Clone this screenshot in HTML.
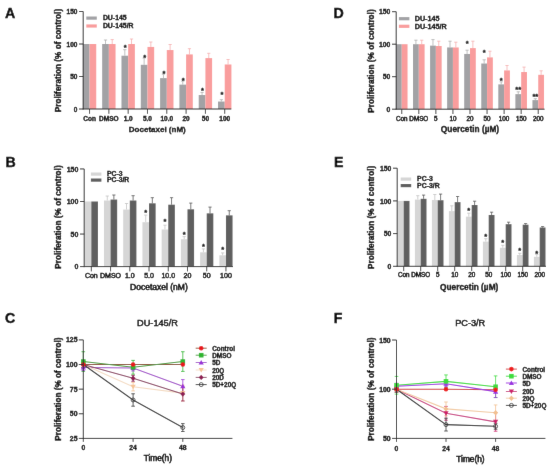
<!DOCTYPE html>
<html><head><meta charset="utf-8"><title>Figure</title>
<style>html,body{margin:0;padding:0;background:#fff;}body{width:550px;height:468px;overflow:hidden;}svg{display:block;font-family:"Liberation Sans", sans-serif;}</style></head><body>
<svg width="550" height="468" viewBox="0 0 550 468">
<defs><filter id="bl" x="0" y="0" width="550" height="468" filterUnits="userSpaceOnUse"><feConvolveMatrix order="3" kernelMatrix="0.00276 0.04704 0.00276 0.04704 0.80077 0.04704 0.00276 0.04704 0.00276" divisor="1" edgeMode="duplicate"/></filter></defs>
<g filter="url(#bl)"><rect width="550" height="468" fill="#fff"/>
<text x="5.00" y="18.40" font-size="14.2" font-weight="bold" text-anchor="start" fill="#000" stroke="#000" stroke-width="0.4">A</text>
<rect x="82.85" y="44.00" width="6.70" height="65.00" fill="#a2a2a5"/>
<rect x="89.55" y="44.00" width="6.70" height="65.00" fill="#f99d9d"/>
<line x1="105.51" y1="40.00" x2="105.51" y2="44.00" stroke="#b0b0b0" stroke-width="0.8"/>
<line x1="103.91" y1="40.00" x2="107.11" y2="40.00" stroke="#b0b0b0" stroke-width="0.8"/>
<rect x="102.16" y="44.00" width="6.70" height="65.00" fill="#a2a2a5"/>
<line x1="112.21" y1="39.60" x2="112.21" y2="44.00" stroke="#f5b0b0" stroke-width="0.8"/>
<line x1="110.61" y1="39.60" x2="113.81" y2="39.60" stroke="#f5b0b0" stroke-width="0.8"/>
<rect x="108.86" y="44.00" width="6.70" height="65.00" fill="#f99d9d"/>
<line x1="124.82" y1="49.70" x2="124.82" y2="55.70" stroke="#b0b0b0" stroke-width="0.8"/>
<line x1="123.22" y1="49.70" x2="126.42" y2="49.70" stroke="#b0b0b0" stroke-width="0.8"/>
<rect x="121.47" y="55.70" width="6.70" height="53.30" fill="#a2a2a5"/>
<line x1="131.52" y1="39.00" x2="131.52" y2="44.00" stroke="#f5b0b0" stroke-width="0.8"/>
<line x1="129.92" y1="39.00" x2="133.12" y2="39.00" stroke="#f5b0b0" stroke-width="0.8"/>
<rect x="128.17" y="44.00" width="6.70" height="65.00" fill="#f99d9d"/>
<line x1="144.13" y1="58.10" x2="144.13" y2="64.80" stroke="#b0b0b0" stroke-width="0.8"/>
<line x1="142.53" y1="58.10" x2="145.73" y2="58.10" stroke="#b0b0b0" stroke-width="0.8"/>
<rect x="140.78" y="64.80" width="6.70" height="44.20" fill="#a2a2a5"/>
<line x1="150.83" y1="42.00" x2="150.83" y2="46.92" stroke="#f5b0b0" stroke-width="0.8"/>
<line x1="149.23" y1="42.00" x2="152.43" y2="42.00" stroke="#f5b0b0" stroke-width="0.8"/>
<rect x="147.48" y="46.92" width="6.70" height="62.08" fill="#f99d9d"/>
<line x1="163.44" y1="74.20" x2="163.44" y2="78.12" stroke="#b0b0b0" stroke-width="0.8"/>
<line x1="161.84" y1="74.20" x2="165.04" y2="74.20" stroke="#b0b0b0" stroke-width="0.8"/>
<rect x="160.09" y="78.12" width="6.70" height="30.88" fill="#a2a2a5"/>
<line x1="170.14" y1="44.50" x2="170.14" y2="50.04" stroke="#f5b0b0" stroke-width="0.8"/>
<line x1="168.54" y1="44.50" x2="171.74" y2="44.50" stroke="#f5b0b0" stroke-width="0.8"/>
<rect x="166.79" y="50.04" width="6.70" height="58.96" fill="#f99d9d"/>
<line x1="182.75" y1="81.20" x2="182.75" y2="84.62" stroke="#b0b0b0" stroke-width="0.8"/>
<line x1="181.15" y1="81.20" x2="184.35" y2="81.20" stroke="#b0b0b0" stroke-width="0.8"/>
<rect x="179.40" y="84.62" width="6.70" height="24.38" fill="#a2a2a5"/>
<line x1="189.45" y1="48.70" x2="189.45" y2="54.40" stroke="#f5b0b0" stroke-width="0.8"/>
<line x1="187.85" y1="48.70" x2="191.05" y2="48.70" stroke="#f5b0b0" stroke-width="0.8"/>
<rect x="186.10" y="54.40" width="6.70" height="54.60" fill="#f99d9d"/>
<line x1="202.06" y1="92.40" x2="202.06" y2="95.03" stroke="#b0b0b0" stroke-width="0.8"/>
<line x1="200.46" y1="92.40" x2="203.66" y2="92.40" stroke="#b0b0b0" stroke-width="0.8"/>
<rect x="198.71" y="95.03" width="6.70" height="13.97" fill="#a2a2a5"/>
<line x1="208.76" y1="53.30" x2="208.76" y2="58.10" stroke="#f5b0b0" stroke-width="0.8"/>
<line x1="207.16" y1="53.30" x2="210.36" y2="53.30" stroke="#f5b0b0" stroke-width="0.8"/>
<rect x="205.41" y="58.10" width="6.70" height="50.90" fill="#f99d9d"/>
<line x1="221.37" y1="99.70" x2="221.37" y2="101.53" stroke="#b0b0b0" stroke-width="0.8"/>
<line x1="219.77" y1="99.70" x2="222.97" y2="99.70" stroke="#b0b0b0" stroke-width="0.8"/>
<rect x="218.02" y="101.53" width="6.70" height="7.47" fill="#a2a2a5"/>
<line x1="228.07" y1="59.50" x2="228.07" y2="64.47" stroke="#f5b0b0" stroke-width="0.8"/>
<line x1="226.47" y1="59.50" x2="229.67" y2="59.50" stroke="#f5b0b0" stroke-width="0.8"/>
<rect x="224.72" y="64.47" width="6.70" height="44.53" fill="#f99d9d"/>
<text x="125.32" y="49.80" font-size="7.5" font-weight="bold" text-anchor="middle" fill="#111" stroke="#111" stroke-width="0.3">*</text>
<text x="144.63" y="60.00" font-size="7.5" font-weight="bold" text-anchor="middle" fill="#111" stroke="#111" stroke-width="0.3">*</text>
<text x="163.94" y="76.00" font-size="7.5" font-weight="bold" text-anchor="middle" fill="#111" stroke="#111" stroke-width="0.3">*</text>
<text x="183.25" y="82.80" font-size="7.5" font-weight="bold" text-anchor="middle" fill="#111" stroke="#111" stroke-width="0.3">*</text>
<text x="202.56" y="93.40" font-size="7.5" font-weight="bold" text-anchor="middle" fill="#111" stroke="#111" stroke-width="0.3">*</text>
<text x="221.87" y="97.20" font-size="7.5" font-weight="bold" text-anchor="middle" fill="#111" stroke="#111" stroke-width="0.3">*</text>
<line x1="83.20" y1="11.50" x2="83.20" y2="109.50" stroke="#333" stroke-width="1.0"/>
<line x1="82.70" y1="109.00" x2="231.30" y2="109.00" stroke="#333" stroke-width="1.0"/>
<line x1="79.00" y1="109.00" x2="83.20" y2="109.00" stroke="#333" stroke-width="1.0"/>
<text x="77.40" y="111.60" font-size="6.5" font-weight="bold" text-anchor="end" fill="#000" stroke="#000" stroke-width="0.3">0</text>
<line x1="79.00" y1="76.50" x2="83.20" y2="76.50" stroke="#333" stroke-width="1.0"/>
<text x="77.40" y="79.10" font-size="6.5" font-weight="bold" text-anchor="end" fill="#000" stroke="#000" stroke-width="0.3">50</text>
<line x1="79.00" y1="44.00" x2="83.20" y2="44.00" stroke="#333" stroke-width="1.0"/>
<text x="77.40" y="46.60" font-size="6.5" font-weight="bold" text-anchor="end" fill="#000" stroke="#000" stroke-width="0.3">100</text>
<line x1="79.00" y1="11.50" x2="83.20" y2="11.50" stroke="#333" stroke-width="1.0"/>
<text x="77.40" y="14.10" font-size="6.5" font-weight="bold" text-anchor="end" fill="#000" stroke="#000" stroke-width="0.3">150</text>
<line x1="89.55" y1="109.00" x2="89.55" y2="113.80" stroke="#333" stroke-width="0.9"/>
<text x="89.55" y="120.80" font-size="6.5" font-weight="bold" text-anchor="middle" fill="#000" stroke="#000" stroke-width="0.3">Con</text>
<line x1="108.86" y1="109.00" x2="108.86" y2="113.80" stroke="#333" stroke-width="0.9"/>
<text x="108.86" y="120.80" font-size="6.5" font-weight="bold" text-anchor="middle" fill="#000" stroke="#000" stroke-width="0.3">DMSO</text>
<line x1="128.17" y1="109.00" x2="128.17" y2="113.80" stroke="#333" stroke-width="0.9"/>
<text x="128.17" y="120.80" font-size="6.5" font-weight="bold" text-anchor="middle" fill="#000" stroke="#000" stroke-width="0.3">1.0</text>
<line x1="147.48" y1="109.00" x2="147.48" y2="113.80" stroke="#333" stroke-width="0.9"/>
<text x="147.48" y="120.80" font-size="6.5" font-weight="bold" text-anchor="middle" fill="#000" stroke="#000" stroke-width="0.3">5.0</text>
<line x1="166.79" y1="109.00" x2="166.79" y2="113.80" stroke="#333" stroke-width="0.9"/>
<text x="166.79" y="120.80" font-size="6.5" font-weight="bold" text-anchor="middle" fill="#000" stroke="#000" stroke-width="0.3">10.0</text>
<line x1="186.10" y1="109.00" x2="186.10" y2="113.80" stroke="#333" stroke-width="0.9"/>
<text x="186.10" y="120.80" font-size="6.5" font-weight="bold" text-anchor="middle" fill="#000" stroke="#000" stroke-width="0.3">20</text>
<line x1="205.41" y1="109.00" x2="205.41" y2="113.80" stroke="#333" stroke-width="0.9"/>
<text x="205.41" y="120.80" font-size="6.5" font-weight="bold" text-anchor="middle" fill="#000" stroke="#000" stroke-width="0.3">50</text>
<line x1="224.72" y1="109.00" x2="224.72" y2="113.80" stroke="#333" stroke-width="0.9"/>
<text x="224.72" y="120.80" font-size="6.5" font-weight="bold" text-anchor="middle" fill="#000" stroke="#000" stroke-width="0.3">100</text>
<text x="157.30" y="132.40" font-size="8" font-weight="bold" text-anchor="middle" fill="#000" stroke="#000" stroke-width="0.3">Docetaxel (nM)</text>
<text x="60.90" y="60.50" font-size="8.2" font-weight="bold" text-anchor="middle" fill="#000" stroke="#000" stroke-width="0.35" transform="rotate(-90 60.9 60.5)">Proliferation (% of control)</text>
<rect x="86.30" y="16.50" width="10.50" height="3.20" fill="#a2a2a5"/>
<text x="102.90" y="20.40" font-size="6.9" font-weight="bold" text-anchor="start" fill="#000" stroke="#000" stroke-width="0.3">DU-145</text>
<rect x="86.30" y="24.40" width="10.50" height="3.20" fill="#f99d9d"/>
<text x="102.90" y="28.30" font-size="6.9" font-weight="bold" text-anchor="start" fill="#000" stroke="#000" stroke-width="0.3">DU-145/R</text>
<text x="333.60" y="18.10" font-size="14.2" font-weight="bold" text-anchor="start" fill="#000" stroke="#000" stroke-width="0.4">D</text>
<rect x="395.95" y="44.20" width="5.80" height="65.00" fill="#a2a2a5"/>
<rect x="401.75" y="44.20" width="5.80" height="65.00" fill="#f99d9d"/>
<line x1="415.91" y1="40.20" x2="415.91" y2="44.20" stroke="#b0b0b0" stroke-width="0.8"/>
<line x1="414.31" y1="40.20" x2="417.51" y2="40.20" stroke="#b0b0b0" stroke-width="0.8"/>
<rect x="413.01" y="44.20" width="5.80" height="65.00" fill="#a2a2a5"/>
<line x1="421.71" y1="40.20" x2="421.71" y2="44.20" stroke="#f5b0b0" stroke-width="0.8"/>
<line x1="420.11" y1="40.20" x2="423.31" y2="40.20" stroke="#f5b0b0" stroke-width="0.8"/>
<rect x="418.81" y="44.20" width="5.80" height="65.00" fill="#f99d9d"/>
<line x1="432.97" y1="39.60" x2="432.97" y2="45.63" stroke="#b0b0b0" stroke-width="0.8"/>
<line x1="431.37" y1="39.60" x2="434.57" y2="39.60" stroke="#b0b0b0" stroke-width="0.8"/>
<rect x="430.07" y="45.63" width="5.80" height="63.57" fill="#a2a2a5"/>
<line x1="438.77" y1="41.20" x2="438.77" y2="46.02" stroke="#f5b0b0" stroke-width="0.8"/>
<line x1="437.17" y1="41.20" x2="440.37" y2="41.20" stroke="#f5b0b0" stroke-width="0.8"/>
<rect x="435.87" y="46.02" width="5.80" height="63.18" fill="#f99d9d"/>
<line x1="450.03" y1="41.20" x2="450.03" y2="47.45" stroke="#b0b0b0" stroke-width="0.8"/>
<line x1="448.43" y1="41.20" x2="451.63" y2="41.20" stroke="#b0b0b0" stroke-width="0.8"/>
<rect x="447.13" y="47.45" width="5.80" height="61.75" fill="#a2a2a5"/>
<line x1="455.83" y1="42.20" x2="455.83" y2="47.45" stroke="#f5b0b0" stroke-width="0.8"/>
<line x1="454.23" y1="42.20" x2="457.43" y2="42.20" stroke="#f5b0b0" stroke-width="0.8"/>
<rect x="452.93" y="47.45" width="5.80" height="61.75" fill="#f99d9d"/>
<line x1="467.09" y1="50.20" x2="467.09" y2="53.95" stroke="#b0b0b0" stroke-width="0.8"/>
<line x1="465.49" y1="50.20" x2="468.69" y2="50.20" stroke="#b0b0b0" stroke-width="0.8"/>
<rect x="464.19" y="53.95" width="5.80" height="55.25" fill="#a2a2a5"/>
<line x1="472.89" y1="41.20" x2="472.89" y2="48.10" stroke="#f5b0b0" stroke-width="0.8"/>
<line x1="471.29" y1="41.20" x2="474.49" y2="41.20" stroke="#f5b0b0" stroke-width="0.8"/>
<rect x="469.99" y="48.10" width="5.80" height="61.10" fill="#f99d9d"/>
<line x1="484.15" y1="59.80" x2="484.15" y2="63.51" stroke="#b0b0b0" stroke-width="0.8"/>
<line x1="482.55" y1="59.80" x2="485.75" y2="59.80" stroke="#b0b0b0" stroke-width="0.8"/>
<rect x="481.25" y="63.51" width="5.80" height="45.70" fill="#a2a2a5"/>
<line x1="489.95" y1="51.20" x2="489.95" y2="57.39" stroke="#f5b0b0" stroke-width="0.8"/>
<line x1="488.35" y1="51.20" x2="491.55" y2="51.20" stroke="#f5b0b0" stroke-width="0.8"/>
<rect x="487.05" y="57.39" width="5.80" height="51.81" fill="#f99d9d"/>
<line x1="501.21" y1="81.80" x2="501.21" y2="84.37" stroke="#b0b0b0" stroke-width="0.8"/>
<line x1="499.61" y1="81.80" x2="502.81" y2="81.80" stroke="#b0b0b0" stroke-width="0.8"/>
<rect x="498.31" y="84.37" width="5.80" height="24.83" fill="#a2a2a5"/>
<line x1="507.01" y1="65.50" x2="507.01" y2="70.40" stroke="#f5b0b0" stroke-width="0.8"/>
<line x1="505.41" y1="65.50" x2="508.61" y2="65.50" stroke="#f5b0b0" stroke-width="0.8"/>
<rect x="504.11" y="70.40" width="5.80" height="38.80" fill="#f99d9d"/>
<line x1="518.27" y1="91.80" x2="518.27" y2="94.12" stroke="#b0b0b0" stroke-width="0.8"/>
<line x1="516.67" y1="91.80" x2="519.87" y2="91.80" stroke="#b0b0b0" stroke-width="0.8"/>
<rect x="515.37" y="94.12" width="5.80" height="15.08" fill="#a2a2a5"/>
<line x1="524.07" y1="67.10" x2="524.07" y2="72.02" stroke="#f5b0b0" stroke-width="0.8"/>
<line x1="522.47" y1="67.10" x2="525.67" y2="67.10" stroke="#f5b0b0" stroke-width="0.8"/>
<rect x="521.17" y="72.02" width="5.80" height="37.18" fill="#f99d9d"/>
<line x1="535.33" y1="98.70" x2="535.33" y2="100.10" stroke="#b0b0b0" stroke-width="0.8"/>
<line x1="533.73" y1="98.70" x2="536.93" y2="98.70" stroke="#b0b0b0" stroke-width="0.8"/>
<rect x="532.43" y="100.10" width="5.80" height="9.10" fill="#a2a2a5"/>
<line x1="541.13" y1="70.80" x2="541.13" y2="74.81" stroke="#f5b0b0" stroke-width="0.8"/>
<line x1="539.53" y1="70.80" x2="542.73" y2="70.80" stroke="#f5b0b0" stroke-width="0.8"/>
<rect x="538.23" y="74.81" width="5.80" height="34.39" fill="#f99d9d"/>
<text x="467.09" y="45.90" font-size="7.5" font-weight="bold" text-anchor="middle" fill="#111" stroke="#111" stroke-width="0.3">*</text>
<text x="484.15" y="55.00" font-size="7.5" font-weight="bold" text-anchor="middle" fill="#111" stroke="#111" stroke-width="0.3">*</text>
<text x="501.21" y="82.50" font-size="7.5" font-weight="bold" text-anchor="middle" fill="#111" stroke="#111" stroke-width="0.3">*</text>
<text x="518.27" y="91.50" font-size="7.5" font-weight="bold" text-anchor="middle" fill="#111" stroke="#111" stroke-width="0.3">**</text>
<text x="535.33" y="99.00" font-size="7.5" font-weight="bold" text-anchor="middle" fill="#111" stroke="#111" stroke-width="0.3">**</text>
<line x1="396.20" y1="11.70" x2="396.20" y2="109.70" stroke="#333" stroke-width="1.0"/>
<line x1="395.70" y1="109.20" x2="544.60" y2="109.20" stroke="#333" stroke-width="1.0"/>
<line x1="392.00" y1="109.20" x2="396.20" y2="109.20" stroke="#333" stroke-width="1.0"/>
<text x="390.40" y="111.80" font-size="6.8" font-weight="bold" text-anchor="end" fill="#000" stroke="#000" stroke-width="0.3">0</text>
<line x1="392.00" y1="76.70" x2="396.20" y2="76.70" stroke="#333" stroke-width="1.0"/>
<text x="390.40" y="79.30" font-size="6.8" font-weight="bold" text-anchor="end" fill="#000" stroke="#000" stroke-width="0.3">50</text>
<line x1="392.00" y1="44.20" x2="396.20" y2="44.20" stroke="#333" stroke-width="1.0"/>
<text x="390.40" y="46.80" font-size="6.8" font-weight="bold" text-anchor="end" fill="#000" stroke="#000" stroke-width="0.3">100</text>
<line x1="392.00" y1="11.70" x2="396.20" y2="11.70" stroke="#333" stroke-width="1.0"/>
<text x="390.40" y="14.30" font-size="6.8" font-weight="bold" text-anchor="end" fill="#000" stroke="#000" stroke-width="0.3">150</text>
<line x1="401.75" y1="109.20" x2="401.75" y2="114.00" stroke="#333" stroke-width="0.9"/>
<text x="401.75" y="121.00" font-size="6.3" font-weight="normal" text-anchor="middle" fill="#000" stroke="#000" stroke-width="0.45">Con</text>
<line x1="418.81" y1="109.20" x2="418.81" y2="114.00" stroke="#333" stroke-width="0.9"/>
<text x="418.81" y="121.00" font-size="6.3" font-weight="normal" text-anchor="middle" fill="#000" stroke="#000" stroke-width="0.45">DMSO</text>
<line x1="435.87" y1="109.20" x2="435.87" y2="114.00" stroke="#333" stroke-width="0.9"/>
<text x="435.87" y="121.00" font-size="6.3" font-weight="normal" text-anchor="middle" fill="#000" stroke="#000" stroke-width="0.45">5</text>
<line x1="452.93" y1="109.20" x2="452.93" y2="114.00" stroke="#333" stroke-width="0.9"/>
<text x="452.93" y="121.00" font-size="6.3" font-weight="normal" text-anchor="middle" fill="#000" stroke="#000" stroke-width="0.45">10</text>
<line x1="469.99" y1="109.20" x2="469.99" y2="114.00" stroke="#333" stroke-width="0.9"/>
<text x="469.99" y="121.00" font-size="6.3" font-weight="normal" text-anchor="middle" fill="#000" stroke="#000" stroke-width="0.45">20</text>
<line x1="487.05" y1="109.20" x2="487.05" y2="114.00" stroke="#333" stroke-width="0.9"/>
<text x="487.05" y="121.00" font-size="6.3" font-weight="normal" text-anchor="middle" fill="#000" stroke="#000" stroke-width="0.45">50</text>
<line x1="504.11" y1="109.20" x2="504.11" y2="114.00" stroke="#333" stroke-width="0.9"/>
<text x="504.11" y="121.00" font-size="6.3" font-weight="normal" text-anchor="middle" fill="#000" stroke="#000" stroke-width="0.45">100</text>
<line x1="521.17" y1="109.20" x2="521.17" y2="114.00" stroke="#333" stroke-width="0.9"/>
<text x="521.17" y="121.00" font-size="6.3" font-weight="normal" text-anchor="middle" fill="#000" stroke="#000" stroke-width="0.45">150</text>
<line x1="538.23" y1="109.20" x2="538.23" y2="114.00" stroke="#333" stroke-width="0.9"/>
<text x="538.23" y="121.00" font-size="6.3" font-weight="normal" text-anchor="middle" fill="#000" stroke="#000" stroke-width="0.45">200</text>
<text x="470.00" y="132.10" font-size="8.3" font-weight="bold" text-anchor="middle" fill="#000" stroke="#000" stroke-width="0.3">Quercetin (µM)</text>
<text x="374.10" y="61.00" font-size="8.2" font-weight="bold" text-anchor="middle" fill="#000" stroke="#000" stroke-width="0.35" transform="rotate(-90 374.1 61.0)">Proliferation (% of control)</text>
<rect x="398.90" y="17.10" width="10.50" height="3.20" fill="#a2a2a5"/>
<text x="414.70" y="21.00" font-size="7.2" font-weight="bold" text-anchor="start" fill="#000" stroke="#000" stroke-width="0.3">DU-145</text>
<rect x="398.90" y="24.70" width="10.50" height="3.20" fill="#f99d9d"/>
<text x="414.70" y="28.60" font-size="7.2" font-weight="bold" text-anchor="start" fill="#000" stroke="#000" stroke-width="0.3">DU-145/R</text>
<text x="5.40" y="167.20" font-size="14.2" font-weight="bold" text-anchor="start" fill="#000" stroke="#000" stroke-width="0.4">B</text>
<rect x="84.74" y="201.50" width="6.60" height="65.10" fill="#d6d6d6"/>
<rect x="91.34" y="201.50" width="6.60" height="65.10" fill="#5e5e5e"/>
<line x1="107.27" y1="196.00" x2="107.27" y2="200.52" stroke="#c4c4c4" stroke-width="0.8"/>
<line x1="105.67" y1="196.00" x2="108.87" y2="196.00" stroke="#c4c4c4" stroke-width="0.8"/>
<rect x="103.97" y="200.52" width="6.60" height="66.08" fill="#d6d6d6"/>
<line x1="113.87" y1="195.00" x2="113.87" y2="199.55" stroke="#555" stroke-width="0.8"/>
<line x1="112.27" y1="195.00" x2="115.47" y2="195.00" stroke="#555" stroke-width="0.8"/>
<rect x="110.57" y="199.55" width="6.60" height="67.05" fill="#5e5e5e"/>
<line x1="126.50" y1="203.50" x2="126.50" y2="209.57" stroke="#c4c4c4" stroke-width="0.8"/>
<line x1="124.90" y1="203.50" x2="128.10" y2="203.50" stroke="#c4c4c4" stroke-width="0.8"/>
<rect x="123.20" y="209.57" width="6.60" height="57.03" fill="#d6d6d6"/>
<line x1="133.10" y1="195.70" x2="133.10" y2="200.52" stroke="#555" stroke-width="0.8"/>
<line x1="131.50" y1="195.70" x2="134.70" y2="195.70" stroke="#555" stroke-width="0.8"/>
<rect x="129.80" y="200.52" width="6.60" height="66.08" fill="#5e5e5e"/>
<line x1="145.73" y1="215.10" x2="145.73" y2="222.20" stroke="#c4c4c4" stroke-width="0.8"/>
<line x1="144.13" y1="215.10" x2="147.33" y2="215.10" stroke="#c4c4c4" stroke-width="0.8"/>
<rect x="142.43" y="222.20" width="6.60" height="44.40" fill="#d6d6d6"/>
<line x1="152.33" y1="197.70" x2="152.33" y2="203.32" stroke="#555" stroke-width="0.8"/>
<line x1="150.73" y1="197.70" x2="153.93" y2="197.70" stroke="#555" stroke-width="0.8"/>
<rect x="149.03" y="203.32" width="6.60" height="63.28" fill="#5e5e5e"/>
<line x1="164.96" y1="225.20" x2="164.96" y2="229.49" stroke="#c4c4c4" stroke-width="0.8"/>
<line x1="163.36" y1="225.20" x2="166.56" y2="225.20" stroke="#c4c4c4" stroke-width="0.8"/>
<rect x="161.66" y="229.49" width="6.60" height="37.11" fill="#d6d6d6"/>
<line x1="171.56" y1="197.70" x2="171.56" y2="204.69" stroke="#555" stroke-width="0.8"/>
<line x1="169.96" y1="197.70" x2="173.16" y2="197.70" stroke="#555" stroke-width="0.8"/>
<rect x="168.26" y="204.69" width="6.60" height="61.91" fill="#5e5e5e"/>
<line x1="184.19" y1="236.60" x2="184.19" y2="239.26" stroke="#c4c4c4" stroke-width="0.8"/>
<line x1="182.59" y1="236.60" x2="185.79" y2="236.60" stroke="#c4c4c4" stroke-width="0.8"/>
<rect x="180.89" y="239.26" width="6.60" height="27.34" fill="#d6d6d6"/>
<line x1="190.79" y1="203.10" x2="190.79" y2="209.31" stroke="#555" stroke-width="0.8"/>
<line x1="189.19" y1="203.10" x2="192.39" y2="203.10" stroke="#555" stroke-width="0.8"/>
<rect x="187.49" y="209.31" width="6.60" height="57.29" fill="#5e5e5e"/>
<line x1="203.42" y1="248.90" x2="203.42" y2="252.28" stroke="#c4c4c4" stroke-width="0.8"/>
<line x1="201.82" y1="248.90" x2="205.02" y2="248.90" stroke="#c4c4c4" stroke-width="0.8"/>
<rect x="200.12" y="252.28" width="6.60" height="14.32" fill="#d6d6d6"/>
<line x1="210.02" y1="207.10" x2="210.02" y2="213.35" stroke="#555" stroke-width="0.8"/>
<line x1="208.42" y1="207.10" x2="211.62" y2="207.10" stroke="#555" stroke-width="0.8"/>
<rect x="206.72" y="213.35" width="6.60" height="53.25" fill="#5e5e5e"/>
<line x1="222.65" y1="252.90" x2="222.65" y2="255.27" stroke="#c4c4c4" stroke-width="0.8"/>
<line x1="221.05" y1="252.90" x2="224.25" y2="252.90" stroke="#c4c4c4" stroke-width="0.8"/>
<rect x="219.35" y="255.27" width="6.60" height="11.33" fill="#d6d6d6"/>
<line x1="229.25" y1="210.70" x2="229.25" y2="215.37" stroke="#555" stroke-width="0.8"/>
<line x1="227.65" y1="210.70" x2="230.85" y2="210.70" stroke="#555" stroke-width="0.8"/>
<rect x="225.95" y="215.37" width="6.60" height="51.23" fill="#5e5e5e"/>
<text x="145.78" y="215.00" font-size="7.5" font-weight="bold" text-anchor="middle" fill="#111" stroke="#111" stroke-width="0.3">*</text>
<text x="165.01" y="223.50" font-size="7.5" font-weight="bold" text-anchor="middle" fill="#111" stroke="#111" stroke-width="0.3">*</text>
<text x="184.24" y="237.10" font-size="7.5" font-weight="bold" text-anchor="middle" fill="#111" stroke="#111" stroke-width="0.3">*</text>
<text x="203.47" y="248.60" font-size="7.5" font-weight="bold" text-anchor="middle" fill="#111" stroke="#111" stroke-width="0.3">*</text>
<text x="222.70" y="251.80" font-size="7.5" font-weight="bold" text-anchor="middle" fill="#111" stroke="#111" stroke-width="0.3">*</text>
<line x1="84.20" y1="168.95" x2="84.20" y2="267.10" stroke="#333" stroke-width="1.0"/>
<line x1="83.70" y1="266.60" x2="233.00" y2="266.60" stroke="#333" stroke-width="1.0"/>
<line x1="80.00" y1="266.60" x2="84.20" y2="266.60" stroke="#333" stroke-width="1.0"/>
<text x="78.40" y="269.20" font-size="7.0" font-weight="bold" text-anchor="end" fill="#000" stroke="#000" stroke-width="0.3">0</text>
<line x1="80.00" y1="234.05" x2="84.20" y2="234.05" stroke="#333" stroke-width="1.0"/>
<text x="78.40" y="236.65" font-size="7.0" font-weight="bold" text-anchor="end" fill="#000" stroke="#000" stroke-width="0.3">50</text>
<line x1="80.00" y1="201.50" x2="84.20" y2="201.50" stroke="#333" stroke-width="1.0"/>
<text x="78.40" y="204.10" font-size="7.0" font-weight="bold" text-anchor="end" fill="#000" stroke="#000" stroke-width="0.3">100</text>
<line x1="80.00" y1="168.95" x2="84.20" y2="168.95" stroke="#333" stroke-width="1.0"/>
<text x="78.40" y="171.55" font-size="7.0" font-weight="bold" text-anchor="end" fill="#000" stroke="#000" stroke-width="0.3">150</text>
<line x1="91.34" y1="266.60" x2="91.34" y2="271.40" stroke="#333" stroke-width="0.9"/>
<text x="91.34" y="278.00" font-size="7.0" font-weight="normal" text-anchor="middle" fill="#000" stroke="#000" stroke-width="0.45">Con</text>
<line x1="110.57" y1="266.60" x2="110.57" y2="271.40" stroke="#333" stroke-width="0.9"/>
<text x="110.57" y="278.00" font-size="7.0" font-weight="normal" text-anchor="middle" fill="#000" stroke="#000" stroke-width="0.45">DMSO</text>
<line x1="129.80" y1="266.60" x2="129.80" y2="271.40" stroke="#333" stroke-width="0.9"/>
<text x="129.80" y="278.00" font-size="7.0" font-weight="normal" text-anchor="middle" fill="#000" stroke="#000" stroke-width="0.45">1.0</text>
<line x1="149.03" y1="266.60" x2="149.03" y2="271.40" stroke="#333" stroke-width="0.9"/>
<text x="149.03" y="278.00" font-size="7.0" font-weight="normal" text-anchor="middle" fill="#000" stroke="#000" stroke-width="0.45">5.0</text>
<line x1="168.26" y1="266.60" x2="168.26" y2="271.40" stroke="#333" stroke-width="0.9"/>
<text x="168.26" y="278.00" font-size="7.0" font-weight="normal" text-anchor="middle" fill="#000" stroke="#000" stroke-width="0.45">10.0</text>
<line x1="187.49" y1="266.60" x2="187.49" y2="271.40" stroke="#333" stroke-width="0.9"/>
<text x="187.49" y="278.00" font-size="7.0" font-weight="normal" text-anchor="middle" fill="#000" stroke="#000" stroke-width="0.45">20</text>
<line x1="206.72" y1="266.60" x2="206.72" y2="271.40" stroke="#333" stroke-width="0.9"/>
<text x="206.72" y="278.00" font-size="7.0" font-weight="normal" text-anchor="middle" fill="#000" stroke="#000" stroke-width="0.45">50</text>
<line x1="225.95" y1="266.60" x2="225.95" y2="271.40" stroke="#333" stroke-width="0.9"/>
<text x="225.95" y="278.00" font-size="7.0" font-weight="normal" text-anchor="middle" fill="#000" stroke="#000" stroke-width="0.45">100</text>
<text x="158.90" y="290.00" font-size="8.5" font-weight="normal" text-anchor="middle" fill="#000" stroke="#000" stroke-width="0.5">Docetaxel (nM)</text>
<text x="60.70" y="217.00" font-size="8.2" font-weight="bold" text-anchor="middle" fill="#000" stroke="#000" stroke-width="0.35" transform="rotate(-90 60.7 217.0)">Proliferation (% of control)</text>
<rect x="90.90" y="172.50" width="10.50" height="3.20" fill="#d6d6d6"/>
<text x="107.00" y="176.40" font-size="6.8" font-weight="bold" text-anchor="start" fill="#000" stroke="#000" stroke-width="0.3">PC-3</text>
<rect x="90.90" y="178.50" width="10.50" height="3.20" fill="#5e5e5e"/>
<text x="107.00" y="182.40" font-size="6.8" font-weight="bold" text-anchor="start" fill="#000" stroke="#000" stroke-width="0.3">PC-3/R</text>
<text x="334.00" y="167.20" font-size="14.2" font-weight="bold" text-anchor="start" fill="#000" stroke="#000" stroke-width="0.4">E</text>
<rect x="397.90" y="200.90" width="5.80" height="65.40" fill="#d6d6d6"/>
<rect x="403.70" y="200.90" width="5.80" height="65.40" fill="#5e5e5e"/>
<line x1="417.80" y1="195.70" x2="417.80" y2="199.59" stroke="#c4c4c4" stroke-width="0.8"/>
<line x1="416.20" y1="195.70" x2="419.40" y2="195.70" stroke="#c4c4c4" stroke-width="0.8"/>
<rect x="414.90" y="199.59" width="5.80" height="66.71" fill="#d6d6d6"/>
<line x1="423.60" y1="195.10" x2="423.60" y2="198.81" stroke="#555" stroke-width="0.8"/>
<line x1="422.00" y1="195.10" x2="425.20" y2="195.10" stroke="#555" stroke-width="0.8"/>
<rect x="420.70" y="198.81" width="5.80" height="67.49" fill="#5e5e5e"/>
<line x1="434.80" y1="194.50" x2="434.80" y2="200.05" stroke="#c4c4c4" stroke-width="0.8"/>
<line x1="433.20" y1="194.50" x2="436.40" y2="194.50" stroke="#c4c4c4" stroke-width="0.8"/>
<rect x="431.90" y="200.05" width="5.80" height="66.25" fill="#d6d6d6"/>
<line x1="440.60" y1="194.10" x2="440.60" y2="200.25" stroke="#555" stroke-width="0.8"/>
<line x1="439.00" y1="194.10" x2="442.20" y2="194.10" stroke="#555" stroke-width="0.8"/>
<rect x="437.70" y="200.25" width="5.80" height="66.05" fill="#5e5e5e"/>
<line x1="451.80" y1="205.80" x2="451.80" y2="211.10" stroke="#c4c4c4" stroke-width="0.8"/>
<line x1="450.20" y1="205.80" x2="453.40" y2="205.80" stroke="#c4c4c4" stroke-width="0.8"/>
<rect x="448.90" y="211.10" width="5.80" height="55.20" fill="#d6d6d6"/>
<line x1="457.60" y1="196.50" x2="457.60" y2="202.14" stroke="#555" stroke-width="0.8"/>
<line x1="456.00" y1="196.50" x2="459.20" y2="196.50" stroke="#555" stroke-width="0.8"/>
<rect x="454.70" y="202.14" width="5.80" height="64.16" fill="#5e5e5e"/>
<line x1="468.80" y1="213.20" x2="468.80" y2="216.66" stroke="#c4c4c4" stroke-width="0.8"/>
<line x1="467.20" y1="213.20" x2="470.40" y2="213.20" stroke="#c4c4c4" stroke-width="0.8"/>
<rect x="465.90" y="216.66" width="5.80" height="49.64" fill="#d6d6d6"/>
<line x1="474.60" y1="201.20" x2="474.60" y2="205.02" stroke="#555" stroke-width="0.8"/>
<line x1="473.00" y1="201.20" x2="476.20" y2="201.20" stroke="#555" stroke-width="0.8"/>
<rect x="471.70" y="205.02" width="5.80" height="61.28" fill="#5e5e5e"/>
<line x1="485.80" y1="238.70" x2="485.80" y2="241.64" stroke="#c4c4c4" stroke-width="0.8"/>
<line x1="484.20" y1="238.70" x2="487.40" y2="238.70" stroke="#c4c4c4" stroke-width="0.8"/>
<rect x="482.90" y="241.64" width="5.80" height="24.66" fill="#d6d6d6"/>
<line x1="491.60" y1="212.20" x2="491.60" y2="214.96" stroke="#555" stroke-width="0.8"/>
<line x1="490.00" y1="212.20" x2="493.20" y2="212.20" stroke="#555" stroke-width="0.8"/>
<rect x="488.70" y="214.96" width="5.80" height="51.34" fill="#5e5e5e"/>
<line x1="502.80" y1="245.30" x2="502.80" y2="247.79" stroke="#c4c4c4" stroke-width="0.8"/>
<line x1="501.20" y1="245.30" x2="504.40" y2="245.30" stroke="#c4c4c4" stroke-width="0.8"/>
<rect x="499.90" y="247.79" width="5.80" height="18.51" fill="#d6d6d6"/>
<line x1="508.60" y1="222.20" x2="508.60" y2="224.18" stroke="#555" stroke-width="0.8"/>
<line x1="507.00" y1="222.20" x2="510.20" y2="222.20" stroke="#555" stroke-width="0.8"/>
<rect x="505.70" y="224.18" width="5.80" height="42.12" fill="#5e5e5e"/>
<line x1="519.80" y1="253.30" x2="519.80" y2="254.99" stroke="#c4c4c4" stroke-width="0.8"/>
<line x1="518.20" y1="253.30" x2="521.40" y2="253.30" stroke="#c4c4c4" stroke-width="0.8"/>
<rect x="516.90" y="254.99" width="5.80" height="11.31" fill="#d6d6d6"/>
<line x1="525.60" y1="223.60" x2="525.60" y2="224.71" stroke="#555" stroke-width="0.8"/>
<line x1="524.00" y1="223.60" x2="527.20" y2="223.60" stroke="#555" stroke-width="0.8"/>
<rect x="522.70" y="224.71" width="5.80" height="41.59" fill="#5e5e5e"/>
<line x1="536.80" y1="254.50" x2="536.80" y2="256.82" stroke="#c4c4c4" stroke-width="0.8"/>
<line x1="535.20" y1="254.50" x2="538.40" y2="254.50" stroke="#c4c4c4" stroke-width="0.8"/>
<rect x="533.90" y="256.82" width="5.80" height="9.48" fill="#d6d6d6"/>
<line x1="542.60" y1="226.60" x2="542.60" y2="227.52" stroke="#555" stroke-width="0.8"/>
<line x1="541.00" y1="226.60" x2="544.20" y2="226.60" stroke="#555" stroke-width="0.8"/>
<rect x="539.70" y="227.52" width="5.80" height="38.78" fill="#5e5e5e"/>
<text x="468.80" y="213.10" font-size="7.5" font-weight="bold" text-anchor="middle" fill="#111" stroke="#111" stroke-width="0.3">*</text>
<text x="485.80" y="239.00" font-size="7.5" font-weight="bold" text-anchor="middle" fill="#111" stroke="#111" stroke-width="0.3">*</text>
<text x="502.80" y="245.10" font-size="7.5" font-weight="bold" text-anchor="middle" fill="#111" stroke="#111" stroke-width="0.3">*</text>
<text x="519.80" y="252.60" font-size="7.5" font-weight="bold" text-anchor="middle" fill="#111" stroke="#111" stroke-width="0.3">*</text>
<text x="536.80" y="255.60" font-size="7.5" font-weight="bold" text-anchor="middle" fill="#111" stroke="#111" stroke-width="0.3">*</text>
<line x1="397.20" y1="168.20" x2="397.20" y2="266.80" stroke="#333" stroke-width="1.0"/>
<line x1="396.70" y1="266.30" x2="546.00" y2="266.30" stroke="#333" stroke-width="1.0"/>
<line x1="393.00" y1="266.30" x2="397.20" y2="266.30" stroke="#333" stroke-width="1.0"/>
<text x="391.40" y="268.90" font-size="6.8" font-weight="bold" text-anchor="end" fill="#000" stroke="#000" stroke-width="0.3">0</text>
<line x1="393.00" y1="233.60" x2="397.20" y2="233.60" stroke="#333" stroke-width="1.0"/>
<text x="391.40" y="236.20" font-size="6.8" font-weight="bold" text-anchor="end" fill="#000" stroke="#000" stroke-width="0.3">50</text>
<line x1="393.00" y1="200.90" x2="397.20" y2="200.90" stroke="#333" stroke-width="1.0"/>
<text x="391.40" y="203.50" font-size="6.8" font-weight="bold" text-anchor="end" fill="#000" stroke="#000" stroke-width="0.3">100</text>
<line x1="393.00" y1="168.20" x2="397.20" y2="168.20" stroke="#333" stroke-width="1.0"/>
<text x="391.40" y="170.80" font-size="6.8" font-weight="bold" text-anchor="end" fill="#000" stroke="#000" stroke-width="0.3">150</text>
<line x1="403.70" y1="266.30" x2="403.70" y2="271.10" stroke="#333" stroke-width="0.9"/>
<text x="403.70" y="277.00" font-size="6.3" font-weight="normal" text-anchor="middle" fill="#000" stroke="#000" stroke-width="0.45">Con</text>
<line x1="420.70" y1="266.30" x2="420.70" y2="271.10" stroke="#333" stroke-width="0.9"/>
<text x="420.70" y="277.00" font-size="6.3" font-weight="normal" text-anchor="middle" fill="#000" stroke="#000" stroke-width="0.45">DMSO</text>
<line x1="437.70" y1="266.30" x2="437.70" y2="271.10" stroke="#333" stroke-width="0.9"/>
<text x="437.70" y="277.00" font-size="6.3" font-weight="normal" text-anchor="middle" fill="#000" stroke="#000" stroke-width="0.45">5</text>
<line x1="454.70" y1="266.30" x2="454.70" y2="271.10" stroke="#333" stroke-width="0.9"/>
<text x="454.70" y="277.00" font-size="6.3" font-weight="normal" text-anchor="middle" fill="#000" stroke="#000" stroke-width="0.45">10</text>
<line x1="471.70" y1="266.30" x2="471.70" y2="271.10" stroke="#333" stroke-width="0.9"/>
<text x="471.70" y="277.00" font-size="6.3" font-weight="normal" text-anchor="middle" fill="#000" stroke="#000" stroke-width="0.45">20</text>
<line x1="488.70" y1="266.30" x2="488.70" y2="271.10" stroke="#333" stroke-width="0.9"/>
<text x="488.70" y="277.00" font-size="6.3" font-weight="normal" text-anchor="middle" fill="#000" stroke="#000" stroke-width="0.45">50</text>
<line x1="505.70" y1="266.30" x2="505.70" y2="271.10" stroke="#333" stroke-width="0.9"/>
<text x="505.70" y="277.00" font-size="6.3" font-weight="normal" text-anchor="middle" fill="#000" stroke="#000" stroke-width="0.45">100</text>
<line x1="522.70" y1="266.30" x2="522.70" y2="271.10" stroke="#333" stroke-width="0.9"/>
<text x="522.70" y="277.00" font-size="6.3" font-weight="normal" text-anchor="middle" fill="#000" stroke="#000" stroke-width="0.45">150</text>
<line x1="539.70" y1="266.30" x2="539.70" y2="271.10" stroke="#333" stroke-width="0.9"/>
<text x="539.70" y="277.00" font-size="6.3" font-weight="normal" text-anchor="middle" fill="#000" stroke="#000" stroke-width="0.45">200</text>
<text x="469.20" y="289.80" font-size="8.3" font-weight="bold" text-anchor="middle" fill="#000" stroke="#000" stroke-width="0.3">Quercetin (µM)</text>
<text x="374.00" y="217.30" font-size="8.2" font-weight="bold" text-anchor="middle" fill="#000" stroke="#000" stroke-width="0.35" transform="rotate(-90 374.0 217.3)">Proliferation (% of control)</text>
<rect x="400.70" y="177.50" width="10.50" height="3.20" fill="#d6d6d6"/>
<text x="417.10" y="181.40" font-size="6.9" font-weight="bold" text-anchor="start" fill="#000" stroke="#000" stroke-width="0.3">PC-3</text>
<rect x="400.70" y="184.00" width="10.50" height="3.20" fill="#5e5e5e"/>
<text x="417.10" y="187.90" font-size="6.9" font-weight="bold" text-anchor="start" fill="#000" stroke="#000" stroke-width="0.3">PC-3/R</text>
<text x="4.90" y="323.10" font-size="14.2" font-weight="bold" text-anchor="start" fill="#000" stroke="#000" stroke-width="0.4">C</text>
<text x="157.50" y="326.30" font-size="9.2" font-weight="normal" text-anchor="middle" fill="#000" stroke="#000" stroke-width="0.45">DU-145/R</text>
<polyline points="83.30,364.52 133.10,364.52 182.80,364.52" fill="none" stroke="#8e4f2c" stroke-width="1.1"/>
<polyline points="83.30,361.57 133.10,367.28 182.80,361.57" fill="none" stroke="#4a9a3a" stroke-width="1.1"/>
<polyline points="83.30,367.48 133.10,367.97 182.80,386.19" fill="none" stroke="#a050c8" stroke-width="1.1"/>
<polyline points="83.30,364.52 133.10,386.69 182.80,393.09" fill="none" stroke="#f4dcc4" stroke-width="1.1"/>
<polyline points="83.30,364.52 133.10,378.31 182.80,394.07" fill="none" stroke="#8a4462" stroke-width="1.1"/>
<polyline points="83.30,364.52 133.10,399.98 182.80,427.56" fill="none" stroke="#333" stroke-width="1.1"/>
<line x1="83.30" y1="351.72" x2="83.30" y2="371.42" stroke="#2fb52f" stroke-width="0.8"/>
<line x1="81.50" y1="351.72" x2="85.10" y2="351.72" stroke="#2fb52f" stroke-width="0.8"/>
<line x1="81.50" y1="371.42" x2="85.10" y2="371.42" stroke="#2fb52f" stroke-width="0.8"/>
<line x1="133.10" y1="360.39" x2="133.10" y2="374.18" stroke="#2fb52f" stroke-width="0.8"/>
<line x1="131.30" y1="360.39" x2="134.90" y2="360.39" stroke="#2fb52f" stroke-width="0.8"/>
<line x1="131.30" y1="374.18" x2="134.90" y2="374.18" stroke="#2fb52f" stroke-width="0.8"/>
<line x1="182.80" y1="351.72" x2="182.80" y2="371.42" stroke="#2fb52f" stroke-width="0.8"/>
<line x1="181.00" y1="351.72" x2="184.60" y2="351.72" stroke="#2fb52f" stroke-width="0.8"/>
<line x1="181.00" y1="371.42" x2="184.60" y2="371.42" stroke="#2fb52f" stroke-width="0.8"/>
<line x1="83.30" y1="364.52" x2="83.30" y2="370.43" stroke="#9a2fd6" stroke-width="0.8"/>
<line x1="81.50" y1="364.52" x2="85.10" y2="364.52" stroke="#9a2fd6" stroke-width="0.8"/>
<line x1="81.50" y1="370.43" x2="85.10" y2="370.43" stroke="#9a2fd6" stroke-width="0.8"/>
<line x1="133.10" y1="365.02" x2="133.10" y2="370.93" stroke="#9a2fd6" stroke-width="0.8"/>
<line x1="131.30" y1="365.02" x2="134.90" y2="365.02" stroke="#9a2fd6" stroke-width="0.8"/>
<line x1="131.30" y1="370.93" x2="134.90" y2="370.93" stroke="#9a2fd6" stroke-width="0.8"/>
<line x1="182.80" y1="379.60" x2="182.80" y2="392.79" stroke="#9a2fd6" stroke-width="0.8"/>
<line x1="181.00" y1="379.60" x2="184.60" y2="379.60" stroke="#9a2fd6" stroke-width="0.8"/>
<line x1="181.00" y1="392.79" x2="184.60" y2="392.79" stroke="#9a2fd6" stroke-width="0.8"/>
<line x1="83.30" y1="361.57" x2="83.30" y2="367.48" stroke="#f5c496" stroke-width="0.8"/>
<line x1="81.50" y1="361.57" x2="85.10" y2="361.57" stroke="#f5c496" stroke-width="0.8"/>
<line x1="81.50" y1="367.48" x2="85.10" y2="367.48" stroke="#f5c496" stroke-width="0.8"/>
<line x1="133.10" y1="382.45" x2="133.10" y2="390.92" stroke="#f5c496" stroke-width="0.8"/>
<line x1="131.30" y1="382.45" x2="134.90" y2="382.45" stroke="#f5c496" stroke-width="0.8"/>
<line x1="131.30" y1="390.92" x2="134.90" y2="390.92" stroke="#f5c496" stroke-width="0.8"/>
<line x1="182.80" y1="385.21" x2="182.80" y2="400.97" stroke="#f5c496" stroke-width="0.8"/>
<line x1="181.00" y1="385.21" x2="184.60" y2="385.21" stroke="#f5c496" stroke-width="0.8"/>
<line x1="181.00" y1="400.97" x2="184.60" y2="400.97" stroke="#f5c496" stroke-width="0.8"/>
<line x1="83.30" y1="361.57" x2="83.30" y2="367.48" stroke="#8e1a52" stroke-width="0.8"/>
<line x1="81.50" y1="361.57" x2="85.10" y2="361.57" stroke="#8e1a52" stroke-width="0.8"/>
<line x1="81.50" y1="367.48" x2="85.10" y2="367.48" stroke="#8e1a52" stroke-width="0.8"/>
<line x1="133.10" y1="375.36" x2="133.10" y2="381.27" stroke="#8e1a52" stroke-width="0.8"/>
<line x1="131.30" y1="375.36" x2="134.90" y2="375.36" stroke="#8e1a52" stroke-width="0.8"/>
<line x1="131.30" y1="381.27" x2="134.90" y2="381.27" stroke="#8e1a52" stroke-width="0.8"/>
<line x1="182.80" y1="387.18" x2="182.80" y2="400.97" stroke="#8e1a52" stroke-width="0.8"/>
<line x1="181.00" y1="387.18" x2="184.60" y2="387.18" stroke="#8e1a52" stroke-width="0.8"/>
<line x1="181.00" y1="400.97" x2="184.60" y2="400.97" stroke="#8e1a52" stroke-width="0.8"/>
<line x1="83.30" y1="361.57" x2="83.30" y2="367.48" stroke="#333" stroke-width="0.8"/>
<line x1="81.50" y1="361.57" x2="85.10" y2="361.57" stroke="#333" stroke-width="0.8"/>
<line x1="81.50" y1="367.48" x2="85.10" y2="367.48" stroke="#333" stroke-width="0.8"/>
<line x1="133.10" y1="393.78" x2="133.10" y2="406.19" stroke="#333" stroke-width="0.8"/>
<line x1="131.30" y1="393.78" x2="134.90" y2="393.78" stroke="#333" stroke-width="0.8"/>
<line x1="131.30" y1="406.19" x2="134.90" y2="406.19" stroke="#333" stroke-width="0.8"/>
<line x1="182.80" y1="423.62" x2="182.80" y2="431.50" stroke="#333" stroke-width="0.8"/>
<line x1="181.00" y1="423.62" x2="184.60" y2="423.62" stroke="#333" stroke-width="0.8"/>
<line x1="181.00" y1="431.50" x2="184.60" y2="431.50" stroke="#333" stroke-width="0.8"/>
<circle cx="83.30" cy="364.52" r="2.00" fill="none" stroke="#333" stroke-width="0.8"/>
<circle cx="133.10" cy="399.98" r="2.00" fill="none" stroke="#333" stroke-width="0.8"/>
<circle cx="182.80" cy="427.56" r="2.00" fill="none" stroke="#333" stroke-width="0.8"/>
<path d="M83.30 367.12L85.90 362.52L80.70 362.52Z" fill="#f5c496"/>
<path d="M133.10 389.29L135.70 384.69L130.50 384.69Z" fill="#f5c496"/>
<path d="M182.80 395.69L185.40 391.09L180.20 391.09Z" fill="#f5c496"/>
<path d="M83.30 361.82L85.80 364.52L83.30 367.22L80.80 364.52Z" fill="#8e1a52"/>
<path d="M133.10 375.62L135.60 378.31L133.10 381.01L130.60 378.31Z" fill="#8e1a52"/>
<path d="M182.80 391.38L185.30 394.07L182.80 396.77L180.30 394.07Z" fill="#8e1a52"/>
<path d="M83.30 364.88L85.90 369.48L80.70 369.48Z" fill="#9a2fd6"/>
<path d="M133.10 365.37L135.70 369.97L130.50 369.97Z" fill="#9a2fd6"/>
<path d="M182.80 383.59L185.40 388.19L180.20 388.19Z" fill="#9a2fd6"/>
<rect x="81.00" y="359.27" width="4.60" height="4.60" fill="#2fb52f"/>
<rect x="130.80" y="364.98" width="4.60" height="4.60" fill="#2fb52f"/>
<rect x="180.50" y="359.27" width="4.60" height="4.60" fill="#2fb52f"/>
<circle cx="83.30" cy="364.52" r="2.3" fill="#e8161b"/>
<circle cx="133.10" cy="364.52" r="2.3" fill="#e8161b"/>
<circle cx="182.80" cy="364.52" r="2.3" fill="#e8161b"/>
<line x1="83.30" y1="339.90" x2="83.30" y2="438.90" stroke="#333" stroke-width="1.0"/>
<line x1="82.80" y1="438.40" x2="232.40" y2="438.40" stroke="#333" stroke-width="1.0"/>
<line x1="78.80" y1="438.40" x2="83.30" y2="438.40" stroke="#333" stroke-width="1.0"/>
<text x="77.50" y="440.90" font-size="6.9" font-weight="bold" text-anchor="end" fill="#000" stroke="#000" stroke-width="0.3">25</text>
<line x1="78.80" y1="413.77" x2="83.30" y2="413.77" stroke="#333" stroke-width="1.0"/>
<text x="77.50" y="416.27" font-size="6.9" font-weight="bold" text-anchor="end" fill="#000" stroke="#000" stroke-width="0.3">50</text>
<line x1="78.80" y1="389.15" x2="83.30" y2="389.15" stroke="#333" stroke-width="1.0"/>
<text x="77.50" y="391.65" font-size="6.9" font-weight="bold" text-anchor="end" fill="#000" stroke="#000" stroke-width="0.3">75</text>
<line x1="78.80" y1="364.52" x2="83.30" y2="364.52" stroke="#333" stroke-width="1.0"/>
<text x="77.50" y="367.02" font-size="6.9" font-weight="bold" text-anchor="end" fill="#000" stroke="#000" stroke-width="0.3">100</text>
<line x1="78.80" y1="339.90" x2="83.30" y2="339.90" stroke="#333" stroke-width="1.0"/>
<text x="77.50" y="342.40" font-size="6.9" font-weight="bold" text-anchor="end" fill="#000" stroke="#000" stroke-width="0.3">125</text>
<line x1="83.30" y1="438.40" x2="83.30" y2="441.90" stroke="#333" stroke-width="0.9"/>
<text x="83.30" y="450.40" font-size="6.8" font-weight="bold" text-anchor="middle" fill="#000" stroke="#000" stroke-width="0.3">0</text>
<line x1="133.10" y1="438.40" x2="133.10" y2="441.90" stroke="#333" stroke-width="0.9"/>
<text x="133.10" y="450.40" font-size="6.8" font-weight="bold" text-anchor="middle" fill="#000" stroke="#000" stroke-width="0.3">24</text>
<line x1="182.80" y1="438.40" x2="182.80" y2="441.90" stroke="#333" stroke-width="0.9"/>
<text x="182.80" y="450.40" font-size="6.8" font-weight="bold" text-anchor="middle" fill="#000" stroke="#000" stroke-width="0.3">48</text>
<text x="157.80" y="461.30" font-size="8.3" font-weight="normal" text-anchor="middle" fill="#000" stroke="#000" stroke-width="0.55">Time(h)</text>
<text x="60.80" y="389.10" font-size="8.2" font-weight="bold" text-anchor="middle" fill="#000" stroke="#000" stroke-width="0.35" transform="rotate(-90 60.8 389.1)">Proliferation (% of control)</text>
<line x1="195.70" y1="348.20" x2="206.70" y2="348.20" stroke="#8e4f2c" stroke-width="0.9"/>
<circle cx="201.20" cy="348.20" r="2.3" fill="#e8161b"/>
<text x="212.20" y="350.90" font-size="6.4" font-weight="bold" text-anchor="start" fill="#000" stroke="#000" stroke-width="0.3">Control</text>
<line x1="195.70" y1="355.20" x2="206.70" y2="355.20" stroke="#4a9a3a" stroke-width="0.9"/>
<rect x="198.90" y="352.90" width="4.60" height="4.60" fill="#2fb52f"/>
<text x="212.20" y="357.90" font-size="6.4" font-weight="bold" text-anchor="start" fill="#000" stroke="#000" stroke-width="0.3">DMSO</text>
<line x1="195.70" y1="362.50" x2="206.70" y2="362.50" stroke="#a050c8" stroke-width="0.9"/>
<path d="M201.20 359.90L203.80 364.50L198.60 364.50Z" fill="#9a2fd6"/>
<text x="212.20" y="365.20" font-size="6.4" font-weight="bold" text-anchor="start" fill="#000" stroke="#000" stroke-width="0.3">5D</text>
<line x1="195.70" y1="370.00" x2="206.70" y2="370.00" stroke="#f4dcc4" stroke-width="0.9"/>
<path d="M201.20 372.60L203.80 368.00L198.60 368.00Z" fill="#f5c496"/>
<text x="212.20" y="372.70" font-size="6.4" font-weight="bold" text-anchor="start" fill="#000" stroke="#000" stroke-width="0.3">20Q</text>
<line x1="195.70" y1="377.40" x2="206.70" y2="377.40" stroke="#8a4462" stroke-width="0.9"/>
<path d="M201.20 374.70L203.70 377.40L201.20 380.10L198.70 377.40Z" fill="#8e1a52"/>
<text x="212.20" y="380.10" font-size="6.4" font-weight="bold" text-anchor="start" fill="#000" stroke="#000" stroke-width="0.3">20D</text>
<line x1="195.70" y1="384.60" x2="206.70" y2="384.60" stroke="#333" stroke-width="0.9"/>
<circle cx="201.20" cy="384.60" r="2.00" fill="none" stroke="#333" stroke-width="0.8"/>
<text x="212.20" y="387.30" font-size="6.4" font-weight="bold" text-anchor="start" fill="#000" stroke="#000" stroke-width="0.3">5D+20Q</text>
<text x="333.80" y="323.20" font-size="14.2" font-weight="bold" text-anchor="start" fill="#000" stroke="#000" stroke-width="0.4">F</text>
<text x="470.20" y="326.40" font-size="9.2" font-weight="normal" text-anchor="middle" fill="#000" stroke="#000" stroke-width="0.45">PC-3/R</text>
<polyline points="396.50,389.20 446.00,389.20 495.60,389.69" fill="none" stroke="#d04040" stroke-width="1.1"/>
<polyline points="396.50,385.26 446.00,381.33 495.60,386.74" fill="none" stroke="#3ddc3d" stroke-width="1.1"/>
<polyline points="396.50,386.25 446.00,383.79 495.60,391.66" fill="none" stroke="#9b30e0" stroke-width="1.1"/>
<polyline points="396.50,389.20 446.00,413.31 495.60,421.87" fill="none" stroke="#c84080" stroke-width="1.1"/>
<polyline points="396.50,389.20 446.00,408.88 495.60,412.82" fill="none" stroke="#f2cca6" stroke-width="1.1"/>
<polyline points="396.50,389.20 446.00,424.62 495.60,426.30" fill="none" stroke="#333" stroke-width="1.1"/>
<line x1="396.50" y1="376.41" x2="396.50" y2="394.12" stroke="#3ddc3d" stroke-width="0.8"/>
<line x1="394.70" y1="376.41" x2="398.30" y2="376.41" stroke="#3ddc3d" stroke-width="0.8"/>
<line x1="394.70" y1="394.12" x2="398.30" y2="394.12" stroke="#3ddc3d" stroke-width="0.8"/>
<line x1="446.00" y1="374.93" x2="446.00" y2="387.72" stroke="#3ddc3d" stroke-width="0.8"/>
<line x1="444.20" y1="374.93" x2="447.80" y2="374.93" stroke="#3ddc3d" stroke-width="0.8"/>
<line x1="444.20" y1="387.72" x2="447.80" y2="387.72" stroke="#3ddc3d" stroke-width="0.8"/>
<line x1="495.60" y1="375.92" x2="495.60" y2="397.56" stroke="#3ddc3d" stroke-width="0.8"/>
<line x1="493.80" y1="375.92" x2="497.40" y2="375.92" stroke="#3ddc3d" stroke-width="0.8"/>
<line x1="493.80" y1="397.56" x2="497.40" y2="397.56" stroke="#3ddc3d" stroke-width="0.8"/>
<line x1="396.50" y1="383.30" x2="396.50" y2="389.20" stroke="#9b30e0" stroke-width="0.8"/>
<line x1="394.70" y1="383.30" x2="398.30" y2="383.30" stroke="#9b30e0" stroke-width="0.8"/>
<line x1="394.70" y1="389.20" x2="398.30" y2="389.20" stroke="#9b30e0" stroke-width="0.8"/>
<line x1="446.00" y1="380.84" x2="446.00" y2="386.74" stroke="#9b30e0" stroke-width="0.8"/>
<line x1="444.20" y1="380.84" x2="447.80" y2="380.84" stroke="#9b30e0" stroke-width="0.8"/>
<line x1="444.20" y1="386.74" x2="447.80" y2="386.74" stroke="#9b30e0" stroke-width="0.8"/>
<line x1="495.60" y1="385.76" x2="495.60" y2="397.56" stroke="#9b30e0" stroke-width="0.8"/>
<line x1="493.80" y1="385.76" x2="497.40" y2="385.76" stroke="#9b30e0" stroke-width="0.8"/>
<line x1="493.80" y1="397.56" x2="497.40" y2="397.56" stroke="#9b30e0" stroke-width="0.8"/>
<line x1="396.50" y1="386.25" x2="396.50" y2="392.15" stroke="#cc1f6a" stroke-width="0.8"/>
<line x1="394.70" y1="386.25" x2="398.30" y2="386.25" stroke="#cc1f6a" stroke-width="0.8"/>
<line x1="394.70" y1="392.15" x2="398.30" y2="392.15" stroke="#cc1f6a" stroke-width="0.8"/>
<line x1="446.00" y1="406.42" x2="446.00" y2="420.20" stroke="#cc1f6a" stroke-width="0.8"/>
<line x1="444.20" y1="406.42" x2="447.80" y2="406.42" stroke="#cc1f6a" stroke-width="0.8"/>
<line x1="444.20" y1="420.20" x2="447.80" y2="420.20" stroke="#cc1f6a" stroke-width="0.8"/>
<line x1="495.60" y1="412.52" x2="495.60" y2="431.22" stroke="#cc1f6a" stroke-width="0.8"/>
<line x1="493.80" y1="412.52" x2="497.40" y2="412.52" stroke="#cc1f6a" stroke-width="0.8"/>
<line x1="493.80" y1="431.22" x2="497.40" y2="431.22" stroke="#cc1f6a" stroke-width="0.8"/>
<line x1="396.50" y1="386.25" x2="396.50" y2="392.15" stroke="#f2c090" stroke-width="0.8"/>
<line x1="394.70" y1="386.25" x2="398.30" y2="386.25" stroke="#f2c090" stroke-width="0.8"/>
<line x1="394.70" y1="392.15" x2="398.30" y2="392.15" stroke="#f2c090" stroke-width="0.8"/>
<line x1="446.00" y1="401.99" x2="446.00" y2="415.77" stroke="#f2c090" stroke-width="0.8"/>
<line x1="444.20" y1="401.99" x2="447.80" y2="401.99" stroke="#f2c090" stroke-width="0.8"/>
<line x1="444.20" y1="415.77" x2="447.80" y2="415.77" stroke="#f2c090" stroke-width="0.8"/>
<line x1="495.60" y1="404.94" x2="495.60" y2="420.69" stroke="#f2c090" stroke-width="0.8"/>
<line x1="493.80" y1="404.94" x2="497.40" y2="404.94" stroke="#f2c090" stroke-width="0.8"/>
<line x1="493.80" y1="420.69" x2="497.40" y2="420.69" stroke="#f2c090" stroke-width="0.8"/>
<line x1="396.50" y1="386.25" x2="396.50" y2="392.15" stroke="#333" stroke-width="0.8"/>
<line x1="394.70" y1="386.25" x2="398.30" y2="386.25" stroke="#333" stroke-width="0.8"/>
<line x1="394.70" y1="392.15" x2="398.30" y2="392.15" stroke="#333" stroke-width="0.8"/>
<line x1="446.00" y1="418.23" x2="446.00" y2="431.02" stroke="#333" stroke-width="0.8"/>
<line x1="444.20" y1="418.23" x2="447.80" y2="418.23" stroke="#333" stroke-width="0.8"/>
<line x1="444.20" y1="431.02" x2="447.80" y2="431.02" stroke="#333" stroke-width="0.8"/>
<line x1="495.60" y1="423.34" x2="495.60" y2="429.25" stroke="#333" stroke-width="0.8"/>
<line x1="493.80" y1="423.34" x2="497.40" y2="423.34" stroke="#333" stroke-width="0.8"/>
<line x1="493.80" y1="429.25" x2="497.40" y2="429.25" stroke="#333" stroke-width="0.8"/>
<circle cx="396.50" cy="389.20" r="2.00" fill="none" stroke="#333" stroke-width="0.8"/>
<circle cx="446.00" cy="424.62" r="2.00" fill="none" stroke="#333" stroke-width="0.8"/>
<circle cx="495.60" cy="426.30" r="2.00" fill="none" stroke="#333" stroke-width="0.8"/>
<path d="M396.50 386.50L399.00 389.20L396.50 391.90L394.00 389.20Z" fill="#f2c090"/>
<path d="M446.00 406.18L448.50 408.88L446.00 411.58L443.50 408.88Z" fill="#f2c090"/>
<path d="M495.60 410.12L498.10 412.82L495.60 415.52L493.10 412.82Z" fill="#f2c090"/>
<path d="M396.50 391.80L399.10 387.20L393.90 387.20Z" fill="#cc1f6a"/>
<path d="M446.00 415.91L448.60 411.31L443.40 411.31Z" fill="#cc1f6a"/>
<path d="M495.60 424.47L498.20 419.87L493.00 419.87Z" fill="#cc1f6a"/>
<path d="M396.50 383.65L399.10 388.25L393.90 388.25Z" fill="#9b30e0"/>
<path d="M446.00 381.19L448.60 385.79L443.40 385.79Z" fill="#9b30e0"/>
<path d="M495.60 389.06L498.20 393.66L493.00 393.66Z" fill="#9b30e0"/>
<rect x="394.20" y="382.96" width="4.60" height="4.60" fill="#3ddc3d"/>
<rect x="443.70" y="379.03" width="4.60" height="4.60" fill="#3ddc3d"/>
<rect x="493.30" y="384.44" width="4.60" height="4.60" fill="#3ddc3d"/>
<circle cx="396.50" cy="389.20" r="2.3" fill="#ee1c1c"/>
<circle cx="446.00" cy="389.20" r="2.3" fill="#ee1c1c"/>
<circle cx="495.60" cy="389.69" r="2.3" fill="#ee1c1c"/>
<line x1="396.50" y1="340.00" x2="396.50" y2="438.90" stroke="#333" stroke-width="1.0"/>
<line x1="396.00" y1="438.40" x2="545.40" y2="438.40" stroke="#333" stroke-width="1.0"/>
<line x1="392.00" y1="438.40" x2="396.50" y2="438.40" stroke="#333" stroke-width="1.0"/>
<text x="390.70" y="440.90" font-size="6.9" font-weight="bold" text-anchor="end" fill="#000" stroke="#000" stroke-width="0.3">50</text>
<line x1="392.00" y1="389.20" x2="396.50" y2="389.20" stroke="#333" stroke-width="1.0"/>
<text x="390.70" y="391.70" font-size="6.9" font-weight="bold" text-anchor="end" fill="#000" stroke="#000" stroke-width="0.3">100</text>
<line x1="392.00" y1="340.00" x2="396.50" y2="340.00" stroke="#333" stroke-width="1.0"/>
<text x="390.70" y="342.50" font-size="6.9" font-weight="bold" text-anchor="end" fill="#000" stroke="#000" stroke-width="0.3">150</text>
<line x1="396.50" y1="438.40" x2="396.50" y2="441.90" stroke="#333" stroke-width="0.9"/>
<text x="396.50" y="450.60" font-size="6.8" font-weight="bold" text-anchor="middle" fill="#000" stroke="#000" stroke-width="0.3">0</text>
<line x1="446.00" y1="438.40" x2="446.00" y2="441.90" stroke="#333" stroke-width="0.9"/>
<text x="446.00" y="450.60" font-size="6.8" font-weight="bold" text-anchor="middle" fill="#000" stroke="#000" stroke-width="0.3">24</text>
<line x1="495.60" y1="438.40" x2="495.60" y2="441.90" stroke="#333" stroke-width="0.9"/>
<text x="495.60" y="450.60" font-size="6.8" font-weight="bold" text-anchor="middle" fill="#000" stroke="#000" stroke-width="0.3">48</text>
<text x="470.50" y="461.50" font-size="8.3" font-weight="normal" text-anchor="middle" fill="#000" stroke="#000" stroke-width="0.55">Time(h)</text>
<text x="374.10" y="389.20" font-size="8.2" font-weight="bold" text-anchor="middle" fill="#000" stroke="#000" stroke-width="0.35" transform="rotate(-90 374.1 389.2)">Proliferation (% of control)</text>
<line x1="505.90" y1="369.10" x2="516.90" y2="369.10" stroke="#d04040" stroke-width="0.9"/>
<circle cx="511.40" cy="369.10" r="2.3" fill="#ee1c1c"/>
<text x="522.40" y="371.80" font-size="6.4" font-weight="bold" text-anchor="start" fill="#000" stroke="#000" stroke-width="0.3">Control</text>
<line x1="505.90" y1="376.20" x2="516.90" y2="376.20" stroke="#3ddc3d" stroke-width="0.9"/>
<rect x="509.10" y="373.90" width="4.60" height="4.60" fill="#3ddc3d"/>
<text x="522.40" y="378.90" font-size="6.4" font-weight="bold" text-anchor="start" fill="#000" stroke="#000" stroke-width="0.3">DMSO</text>
<line x1="505.90" y1="383.00" x2="516.90" y2="383.00" stroke="#9b30e0" stroke-width="0.9"/>
<path d="M511.40 380.40L514.00 385.00L508.80 385.00Z" fill="#9b30e0"/>
<text x="522.40" y="385.70" font-size="6.4" font-weight="bold" text-anchor="start" fill="#000" stroke="#000" stroke-width="0.3">5D</text>
<line x1="505.90" y1="391.50" x2="516.90" y2="391.50" stroke="#c84080" stroke-width="0.9"/>
<path d="M511.40 394.10L514.00 389.50L508.80 389.50Z" fill="#cc1f6a"/>
<text x="522.40" y="394.20" font-size="6.4" font-weight="bold" text-anchor="start" fill="#000" stroke="#000" stroke-width="0.3">20D</text>
<line x1="505.90" y1="398.20" x2="516.90" y2="398.20" stroke="#f2cca6" stroke-width="0.9"/>
<path d="M511.40 395.50L513.90 398.20L511.40 400.90L508.90 398.20Z" fill="#f2c090"/>
<text x="522.40" y="400.90" font-size="6.4" font-weight="bold" text-anchor="start" fill="#000" stroke="#000" stroke-width="0.3">20Q</text>
<line x1="505.90" y1="405.40" x2="516.90" y2="405.40" stroke="#333" stroke-width="0.9"/>
<circle cx="511.40" cy="405.40" r="2.00" fill="none" stroke="#333" stroke-width="0.8"/>
<text x="522.40" y="408.10" font-size="6.4" font-weight="bold" text-anchor="start" fill="#000" stroke="#000" stroke-width="0.3">5D+20Q</text>
</g></svg></body></html>
